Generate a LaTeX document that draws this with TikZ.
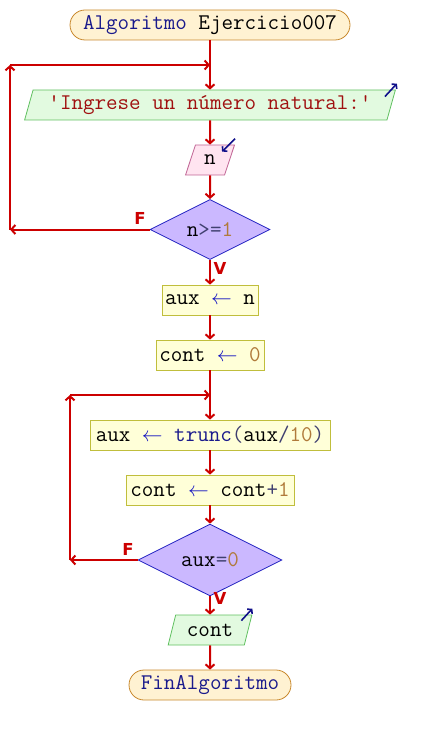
\documentclass[tikz,border=0pt]{standalone}
\usepackage{fontspec}
\newfontfamily\etiqfont{DejaVu Sans}
\usetikzlibrary{shapes.geometric,arrows.meta}

\definecolor{linea}{HTML}{CC0000}
\definecolor{clave}{HTML}{1A1A8C}
\definecolor{flechaio}{HTML}{10108A}
\definecolor{numero}{HTML}{B07A3A}
\definecolor{operador}{HTML}{404070}
\definecolor{asigna}{HTML}{1010C0}
\definecolor{cadena}{HTML}{A01010}
\definecolor{termfondo}{HTML}{FFF2D2}
\definecolor{termborde}{HTML}{C8882C}
\definecolor{procfondo}{HTML}{FFFFD8}
\definecolor{procborde}{HTML}{C0BE3C}
\definecolor{leefondo}{HTML}{FFE4F0}
\definecolor{leeborde}{HTML}{C06494}
\definecolor{escfondo}{HTML}{E2FAE0}
\definecolor{escborde}{HTML}{60C060}
\definecolor{condfondo}{HTML}{CBB8FF}
\definecolor{condborde}{HTML}{2020C0}

\newcommand{\pkw}[1]{\textcolor{clave}{#1}}
\newcommand{\pnro}[1]{\textcolor{numero}{#1}}
\newcommand{\popr}[1]{\textcolor{operador}{#1}}
\newcommand{\pasig}{\textcolor{asigna}{$\leftarrow$}}

\begin{document}
\begin{tikzpicture}[x=10pt,y=10pt]
	\tikzstyle{every node}+=[inner sep=0pt, font=\ttfamily\fontsize{22.4}{24}\selectfont]
	\tikzstyle{flecha}=[draw=linea, line width=2pt, -{Straight Barb[length=4pt,width=9pt]}]
	\tikzstyle{io}=[draw=flechaio, line width=1.6pt, -{Straight Barb[length=3pt,width=7pt]}]
	\tikzstyle{terminal}=[rectangle, rounded corners=15pt, draw=termborde, fill=termfondo, line width=0.8pt, minimum height=30pt]
	\tikzstyle{proceso}=[rectangle, draw=procborde, fill=procfondo, line width=0.8pt, minimum height=30pt]
	\tikzstyle{leer}=[trapezium, trapezium left angle=68, trapezium right angle=112, trapezium stretches=true, draw=leeborde, fill=leefondo, line width=0.8pt, minimum height=30pt]
	\tikzstyle{escribir}=[trapezium, trapezium left angle=68, trapezium right angle=112, trapezium stretches=true, draw=escborde, fill=escfondo, line width=0.8pt, minimum height=30pt]
	\tikzstyle{decision}=[diamond, draw=condborde, fill=condfondo, line width=0.8pt]
	\tikzstyle{etiq}=[text=linea, font=\etiqfont\bfseries\fontsize{16.5}{18}\selectfont]
	\useasboundingbox (0,0) rectangle (42,-73.5);

	% bloque principal
	\node [terminal, minimum width=280pt] (inicio) at (21,-2.5) {\pkw{Algoritmo} Ejercicio007};
	\node [escribir, minimum width=372pt] (mensaje) at (21,-10.5) {\textcolor{cadena}{'Ingrese un número natural:'}};
	\node [leer, minimum width=49pt] (leern) at (21,-16) {n};
	\node [decision, minimum width=120pt, minimum height=59pt] (cond1) at (21,-22.95) {n\popr{>=}\pnro{1}};
	\node [proceso, minimum width=96pt] (asig1) at (21,-30) {aux \pasig{} n};
	\node [proceso, minimum width=108pt] (asig2) at (21,-35.5) {cont \pasig{} \pnro{0}};
	\node [proceso, minimum width=240pt] (asig3) at (21,-43.5) {aux \pasig{} \pkw{trunc}\popr{(}aux\popr{/}\pnro{10}\popr{)}};
	\node [proceso, minimum width=168pt] (asig4) at (21,-49) {cont \pasig{} cont\popr{+}\pnro{1}};
	\node [decision, minimum width=144pt, minimum height=60pt] (cond2) at (21,-56) {aux\popr{=}\pnro{0}};
	\node [escribir, minimum width=84pt] (salida) at (21,-63) {cont};
	\node [terminal, minimum width=162pt] (fin) at (21,-68.5) {\pkw{FinAlgoritmo}};

	% puntos de los lazos
	\coordinate (union1) at (21,-6.5);
	\coordinate (arriba1) at (1,-6.5);
	\coordinate (abajo1) at (1,-22.95);
	\coordinate (union2) at (21,-39.5);
	\coordinate (arriba2) at (7,-39.5);
	\coordinate (abajo2) at (7,-56);

	% conectores
	\draw [flecha] (inicio) -- (mensaje);
	\draw [flecha] (mensaje) -- (leern);
	\draw [flecha] (leern) -- (cond1);
	\draw [flecha] (cond1) -- (asig1);
	\draw [flecha] (asig1) -- (asig2);
	\draw [flecha] (asig2) -- (asig3);
	\draw [flecha] (asig3) -- (asig4);
	\draw [flecha] (asig4) -- (cond2);
	\draw [flecha] (cond2) -- (salida);
	\draw [flecha] (salida) -- (fin);
	\draw [flecha] (cond1.west) -- (abajo1);
	\draw [flecha] (abajo1) -- (arriba1);
	\draw [flecha] (arriba1) -- (union1);
	\draw [flecha] (cond2.west) -- (abajo2);
	\draw [flecha] (abajo2) -- (arriba2);
	\draw [flecha] (arriba2) -- (union2);

	% etiquetas
	\node [etiq] (f1) at (14,-21.8) {F};
	\node [etiq] (v1) at (22,-26.8) {V};
	\node [etiq] (f2) at (12.8,-54.9) {F};
	\node [etiq] (v2) at (22,-59.8) {V};

	% flechas de entrada y salida
	\draw [io] ([shift={(-1.1,-0.7)}]mensaje.top right corner) -- ([shift={(0.1,0.6)}]mensaje.top right corner);
	\draw [io] ([shift={(0,0.6)}]leern.top right corner) -- ([shift={(-1.3,-0.7)}]leern.top right corner);
	\draw [io] ([shift={(-1.1,-0.6)}]salida.top right corner) -- ([shift={(0,0.6)}]salida.top right corner);
\end{tikzpicture}
\end{document}
